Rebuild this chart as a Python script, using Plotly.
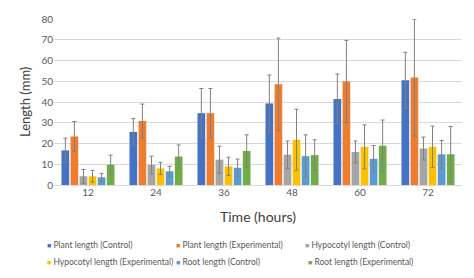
import plotly.graph_objects as go

categories = ["12", "24", "36", "48", "60", "72"]
series_names = [
    "Plant length (Control)",
    "Plant length (Experimental)",
    "Hypocotyl length (Control)",
    "Hypocotyl length (Experimental)",
    "Root length (Control)",
    "Root length (Experimental)",
]
plant_ctrl = [16.7, 25.6, 34.6, 39.3, 41.5, 50.5]
plant_ctrl_err = [5.9, 6.4, 11.9, 13.7, 12.0, 13.5]
plant_exp = [23.4, 30.9, 34.6, 48.5, 49.9, 51.8]
plant_exp_err = [7.2, 8.1, 11.9, 22.3, 19.8, 28.1]
hypo_ctrl = [4.2, 9.7, 12.2, 14.6, 15.9, 17.6]
hypo_ctrl_err = [3.3, 4.2, 6.5, 6.6, 5.3, 5.5]
hypo_exp = [4.2, 8.0, 9.0, 21.8, 18.4, 18.4]
hypo_exp_err = [2.8, 2.9, 4.4, 14.7, 10.6, 10.0]
root_ctrl = [3.7, 6.6, 8.3, 13.9, 12.6, 14.8]
root_ctrl_err = [1.9, 2.4, 4.2, 10.3, 6.4, 6.7]
root_exp = [9.8, 13.7, 16.4, 14.4, 18.9, 14.8]
root_exp_err = [4.6, 5.6, 7.8, 7.4, 12.4, 13.4]

values = [plant_ctrl, plant_exp, hypo_ctrl, hypo_exp, root_ctrl, root_exp]
errors = [plant_ctrl_err, plant_exp_err, hypo_ctrl_err, hypo_exp_err, root_ctrl_err, root_exp_err]
colors = ["#4472C4", "#ED7D31", "#A5A5A5", "#FFC000", "#5B9BD5", "#70AD47"]

FONT = "Lato"
TXT = "#595959"

fig = go.Figure()
for name, v, e, c in zip(series_names, values, errors, colors):
    fig.add_trace(go.Bar(
        x=categories, y=v, name=name, marker_color=c, marker_line_width=0,
        error_y=dict(type="data", array=e, visible=True, color="#808080",
                     thickness=1, width=2),
        showlegend=False,
    ))

# Plot area in pixels: x 54..462, y 14..185
L, R, T, B = 54, 462, 14, 185
W, H = R - L, B - T

def px_x(px):
    return (px - L) / W

def px_y(py):
    return (B - py) / H

legend_pos = [(45, 247), (174, 247), (303, 247), (45, 264), (174, 264), (306, 264)]
annotations = []
for (lx, ly), name, c in zip(legend_pos, series_names, colors):
    annotations.append(dict(
        xref="paper", yref="paper", x=px_x(lx), y=px_y(ly),
        xanchor="left", yanchor="middle", showarrow=False,
        text=f'<span style="color:{c};font-size:7px">■</span> {name}',
        font=dict(family=FONT, size=8.5, color=TXT),
    ))

# y-axis title placed as an annotation at the reference position
annotations.append(dict(
    xref="paper", yref="paper", x=px_x(25), y=0.5,
    xanchor="center", yanchor="middle", showarrow=False, textangle=-90,
    text="Length (mm)", font=dict(family=FONT, size=13, color="#404040"),
))

fig.update_layout(
    width=474, height=278,
    margin=dict(l=L, r=474 - R, t=T, b=278 - B),
    paper_bgcolor="white", plot_bgcolor="white",
    barmode="group", bargap=0.2, bargroupgap=0.15,
    font=dict(family=FONT, color=TXT),
    xaxis=dict(
        showgrid=False, showline=False, ticks="",
        tickfont=dict(size=10, color=TXT),
        title=dict(text="Time (hours)", font=dict(size=14, color="#404040"), standoff=15),
    ),
    yaxis=dict(
        range=[0, 80], dtick=10, showgrid=True, gridcolor="#D9D9D9", gridwidth=1,
        zeroline=True, zerolinecolor="#D9D9D9", zerolinewidth=1,
        showline=False, ticks="", tickfont=dict(size=10, color=TXT),
    ),
    annotations=annotations,
)

fig.write_html("out.html")
